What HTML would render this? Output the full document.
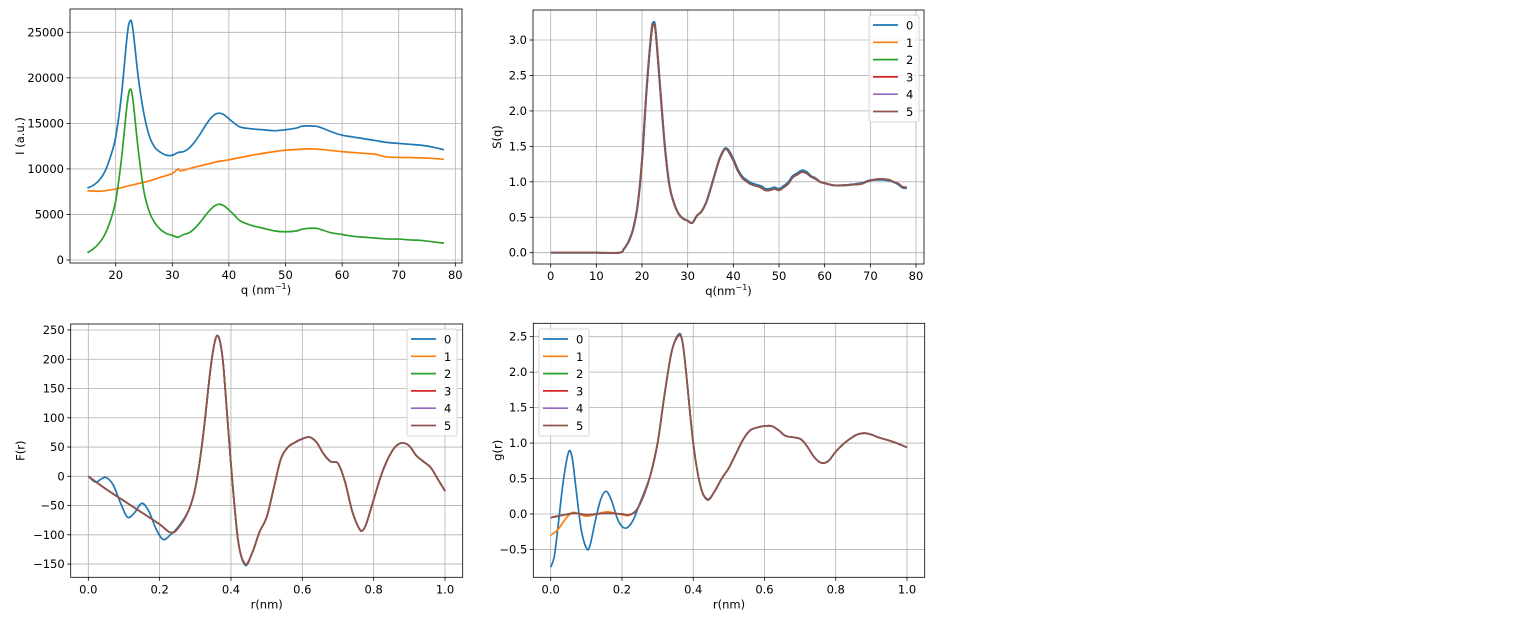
<!DOCTYPE html>
<html><head><meta charset="utf-8">
<style>
body{margin:0;background:#fff;}
svg{display:block;font-family:"DejaVu Sans","Liberation Sans",sans-serif;}
</style></head>
<body>
<svg id="fig" width="1538" height="622" viewBox="0 0 1538 622" xmlns="http://www.w3.org/2000/svg"></svg>
<script>
// ---- Panel A: I(q) ----
const iqX0 = [15,16,17,18,19,20,21,22,22.5,23,24,25,26,27,28,29,30,31,32,33,34,35,36,37,38,39,40,41,42,44,46,48,50,52,53,55,56,58,60,62,64,66,68,70,72,74,76,78];
const iqY0 = [7900,8200,8700,9600,11200,13500,18000,24500,26200,25500,20000,16000,13500,12300,11800,11500,11500,11800,11900,12300,13000,13900,14900,15700,16100,16000,15500,15000,14600,14400,14300,14200,14300,14500,14700,14700,14600,14100,13700,13500,13300,13100,12900,12800,12700,12600,12400,12100];
const iqX1 = [15,17,18,20,22,24,26,28,30,31,31.5,34,36,38,40,44,48,50,54,56,60,64,66,68,72,76,78];
const iqY1 = [7600,7550,7600,7800,8100,8400,8700,9100,9500,10000,9800,10200,10500,10800,11000,11500,11900,12050,12200,12150,11900,11700,11600,11300,11250,11150,11050];
const iqX2 = iqX0;
const iqY2 = [800,1200,1800,2700,4200,6500,11000,17000,18700,17800,12000,7500,5200,4000,3300,2900,2700,2500,2800,3000,3500,4200,5000,5700,6100,6000,5500,4900,4300,3800,3500,3200,3100,3200,3400,3500,3400,3000,2800,2600,2500,2400,2300,2300,2200,2150,2000,1850];
const iqXTicks = [20,30,40,50,60,70,80];
const iqYTicks = [0,5000,10000,15000,20000,25000];

// ---- Panel B: S(q) ----
const sqX = [0,5,10,15,16,17,18,19,20,21,22,22.5,23,24,25,26,27,28,29,30,31,32,33,34,35,36,37,38,38.5,39,40,41,42,43,44,46,47,48,49,50,51,52,53,54,55,56,57,58,59,60,62,64,66,68,70,72,74,75,76,77,78];
const sqY = [0,0,0,0,0.05,0.15,0.32,0.65,1.3,2.3,3.05,3.22,3.1,2.3,1.5,0.95,0.7,0.55,0.48,0.45,0.42,0.52,0.58,0.7,0.9,1.12,1.32,1.45,1.46,1.42,1.3,1.15,1.05,1.0,0.96,0.92,0.88,0.88,0.9,0.88,0.92,0.97,1.06,1.1,1.14,1.12,1.07,1.04,1.0,0.98,0.95,0.95,0.96,0.97,1.02,1.04,1.03,1.0,0.98,0.93,0.92];
const sqY0 = [0,0,0,0,0.05,0.15,0.32,0.65,1.3,2.3,3.08,3.25,3.12,2.3,1.5,0.95,0.7,0.55,0.48,0.45,0.42,0.52,0.58,0.7,0.9,1.12,1.33,1.46,1.47,1.44,1.32,1.17,1.07,1.02,0.98,0.94,0.9,0.9,0.92,0.9,0.94,0.99,1.08,1.12,1.16,1.14,1.08,1.05,1.0,0.98,0.95,0.95,0.96,0.98,1.02,1.03,1.02,1.0,0.97,0.92,0.91];
const sqXTicks = [0,10,20,30,40,50,60,70,80];
const sqYTicks = [0,0.5,1,1.5,2,2.5,3];

// ---- Panel C: F(r) ----
const frX = [0,0.05,0.1,0.15,0.2,0.23,0.25,0.28,0.3,0.32,0.34,0.35,0.36,0.37,0.38,0.4,0.42,0.44,0.46,0.48,0.5,0.52,0.54,0.56,0.58,0.6,0.62,0.64,0.66,0.68,0.7,0.72,0.74,0.76,0.77,0.78,0.8,0.82,0.84,0.86,0.88,0.9,0.92,0.94,0.96,0.98,1.0];
const frY = [0,-22,-42,-62,-82,-96,-90,-60,-20,60,170,215,240,228,180,20,-110,-150,-130,-95,-70,-20,30,50,58,64,67,58,38,25,22,-10,-60,-90,-92,-80,-40,0,30,50,57,52,35,25,15,-5,-25];
const frX0 = [0,0.02,0.035,0.05,0.07,0.09,0.11,0.13,0.15,0.17,0.19,0.21,0.23,0.25,0.28,0.3,0.32,0.34,0.35,0.36,0.37,0.38,0.4,0.42,0.44,0.46,0.48,0.5,0.52,0.54,0.56,0.58,0.6,0.62,0.64,0.66,0.68,0.7,0.72,0.74,0.76,0.77,0.78,0.8,0.82,0.84,0.86,0.88,0.9,0.92,0.94,0.96,0.98,1.0];
const frY0 = [0,-10,-5,-2,-15,-45,-70,-62,-46,-60,-90,-108,-100,-88,-60,-20,60,170,215,240,228,180,20,-110,-152,-130,-95,-70,-20,30,50,58,64,67,58,38,25,22,-10,-60,-90,-92,-80,-40,0,30,50,57,52,35,25,15,-5,-25];
const frXTicks = [0,0.2,0.4,0.6,0.8,1.0];
const frYTicks = [-150,-100,-50,0,50,100,150,200,250];

// ---- Panel D: g(r) ----
const grX = [0,0.03,0.05,0.07,0.1,0.13,0.16,0.2,0.22,0.24,0.26,0.28,0.3,0.32,0.34,0.36,0.37,0.38,0.4,0.42,0.44,0.46,0.48,0.5,0.52,0.54,0.56,0.58,0.6,0.62,0.64,0.66,0.7,0.72,0.74,0.76,0.78,0.8,0.82,0.84,0.86,0.88,0.9,0.92,0.96,1.0];
const grY = [-0.05,-0.02,0,0.01,-0.01,0,0.01,0,-0.01,0.05,0.25,0.55,1.0,1.7,2.3,2.52,2.42,2.0,1.0,0.4,0.2,0.32,0.5,0.65,0.85,1.05,1.18,1.22,1.24,1.24,1.18,1.1,1.06,0.95,0.8,0.72,0.75,0.88,0.98,1.06,1.12,1.14,1.12,1.08,1.02,0.94];
const grX0 = [0,0.01,0.02,0.035,0.05,0.06,0.07,0.085,0.1,0.11,0.125,0.14,0.155,0.17,0.19,0.21,0.23,0.25,0.28,0.3,0.32,0.34,0.36,0.37,0.38,0.4,0.42,0.44,0.46,0.48,0.5,0.52,0.54,0.56,0.58,0.6,0.62,0.64,0.66,0.7,0.72,0.74,0.76,0.78,0.8,0.82,0.84,0.86,0.88,0.9,0.92,0.96,1.0];
const grY0 = [-0.75,-0.6,-0.2,0.45,0.87,0.8,0.4,-0.2,-0.48,-0.45,-0.1,0.2,0.32,0.2,-0.1,-0.2,-0.1,0.15,0.55,1.0,1.7,2.3,2.54,2.42,2.0,1.0,0.4,0.21,0.32,0.5,0.65,0.85,1.05,1.18,1.22,1.24,1.24,1.18,1.1,1.06,0.95,0.8,0.72,0.75,0.88,0.98,1.06,1.12,1.14,1.12,1.08,1.02,0.94];
const grX1 = [0,0.02,0.04,0.06,0.08,0.1,0.13,0.16,0.2,0.22,0.24,0.26,0.28,0.3];
const grY1 = [-0.3,-0.22,-0.08,0.02,0,-0.03,0,0.03,-0.01,-0.02,0.05,0.25,0.55,1.0];
const grXTicks = [0,0.2,0.4,0.6,0.8,1.0];
const grYTicks = [-0.5,0,0.5,1,1.5,2,2.5];

const legendLabels = ['0','1','2','3','4','5'];
const COLORS = ['#1f77b4','#ff7f0e','#2ca02c','#d62728','#9467bd','#8c564b'];
const NS = 'http://www.w3.org/2000/svg';
const fig = document.getElementById('fig');

function mk(tag, attrs, parent){
  const e = document.createElementNS(NS, tag);
  for (const k in attrs) e.setAttribute(k, attrs[k]);
  (parent||fig).appendChild(e);
  return e;
}
function smoothPath(xs, ys, sx, sy){
  const p = xs.map((x,i)=>[sx(x), sy(ys[i])]);
  let d = 'M'+p[0][0].toFixed(2)+','+p[0][1].toFixed(2);
  for (let i=0;i<p.length-1;i++){
    const p0=p[i-1]||p[i], p1=p[i], p2=p[i+1], p3=p[i+2]||p[i+1];
    const c1=[p1[0]+(p2[0]-p0[0])/6, p1[1]+(p2[1]-p0[1])/6];
    const c2=[p2[0]-(p3[0]-p1[0])/6, p2[1]-(p3[1]-p1[1])/6];
    d+=' C'+c1[0].toFixed(2)+','+c1[1].toFixed(2)+' '+c2[0].toFixed(2)+','+c2[1].toFixed(2)+' '+p2[0].toFixed(2)+','+p2[1].toFixed(2);
  }
  return d;
}
function fmt(v, dec){ return (v<0?'\u2212':'')+Math.abs(v).toFixed(dec); }

function panel(o){
  const g = mk('g',{});
  
  
  const sx = v => o.px0 + (v-o.x0)*(o.px1-o.px0)/(o.x1-o.x0);
  const sy = v => o.py0 + (v-o.y0)*(o.py1-o.py0)/(o.y1-o.y0);
  const cp = 'clip-'+o.name;
  const defs = mk('defs',{},g);
  const c = mk('clipPath',{id:cp},defs);
  mk('rect',{x:o.L,y:o.T,width:o.R-o.L,height:o.B-o.T},c);
  o.xt.forEach(v=>{
    const x=sx(v);
    const gl = mk('line',{x1:x,x2:x,y1:o.T,y2:o.B,stroke:'#b0b0b0','stroke-width':0.8},g);
    
    
    mk('line',{x1:x,x2:x,y1:o.B,y2:o.B+3.5,stroke:'#000','stroke-width':0.8},g);
    const t = mk('text',{x:x,y:o.B+16,'font-size':11.5,'text-anchor':'middle',fill:'#000'},g);
    t.textContent = fmt(v,o.xdec);
    
    
  });
  o.yt.forEach(v=>{
    const y=sy(v);
    const gl = mk('line',{x1:o.L,x2:o.R,y1:y,y2:y,stroke:'#b0b0b0','stroke-width':0.8},g);
    
    
    mk('line',{x1:o.L-3.5,x2:o.L,y1:y,y2:y,stroke:'#000','stroke-width':0.8},g);
    const t = mk('text',{x:o.L-6,y:y+4,'font-size':11.5,'text-anchor':'end',fill:'#000'},g);
    t.textContent = fmt(v,o.ydec);
    
    
  });
  const lg = mk('g',{'clip-path':'url(#'+cp+')'},g);
  o.series.forEach(s=>{
    const p = mk('path',{d:smoothPath(s.x,s.y,sx,sy),fill:'none',stroke:s.c,'stroke-width':s.w||1.7,'stroke-linejoin':'round'},lg);
    
    
  });
  mk('rect',{x:o.L,y:o.T,width:o.R-o.L,height:o.B-o.T,fill:'none',stroke:'#000','stroke-width':0.8},g);
  const xl = mk('text',{x:(o.L+o.R)/2,y:o.B+31,'font-size':11.5,'text-anchor':'middle'},g);
  xl.innerHTML = o.xlabel;
  
  
  const yx = o.L-o.ylOff, yy=(o.T+o.B)/2;
  const yl = mk('text',{x:yx,y:yy,'font-size':11.5,'text-anchor':'middle',transform:'rotate(-90 '+yx+' '+yy+')'},g);
  yl.textContent = o.ylabel;
  
  
  if (o.leg){
    const L = o.leg;
    const lgd = mk('g',{},g);
    
    
    mk('rect',{x:L.x,y:L.y,width:50,height:107,rx:2,fill:'#fff','fill-opacity':0.8,stroke:'#ccc','stroke-width':0.8},lgd);
    legendLabels.forEach((lab,i)=>{
      const y = L.y+10+i*17.3;
      const e = mk('g',{},lgd);
      
      
      mk('line',{x1:L.x+4,x2:L.x+29,y1:y,y2:y,stroke:COLORS[i],'stroke-width':1.7},e);
      const t = mk('text',{x:L.x+37,y:y+4.5,'font-size':11.5},e);
      t.textContent = lab;
    });
  }
}

function allSeries(base, extra){
  return legendLabels.map((lab,i)=>{
    const s = extra[i] || {x:base.x,y:base.y};
    return {x:s.x,y:s.y,c:COLORS[i],n:'series-'+lab,w:s.w};
  });
}

panel({name:'intensity-panel',L:70,R:462,T:9,B:263,
  x0:20,x1:80,px0:115.7,px1:455.3,y0:0,y1:25000,py0:260,py1:32.3,
  xt:iqXTicks,yt:iqYTicks,xdec:0,ydec:0,xlabel:'q (nm<tspan dy="-5" font-size="8">\u22121</tspan><tspan dy="5">)</tspan>',ylabel:'I (a.u.)',ylOff:46,
  series:[{x:iqX0,y:iqY0,c:COLORS[0],n:'series-0'},{x:iqX1,y:iqY1,c:COLORS[1],n:'series-1'},{x:iqX2,y:iqY2,c:COLORS[2],n:'series-2'}]});

panel({name:'structure-factor-panel',L:533,R:924,T:10,B:264,
  x0:0,x1:80,px0:550.7,px1:916,y0:0,y1:3,py0:252.7,py1:40,
  xt:sqXTicks,yt:sqYTicks,xdec:0,ydec:1,xlabel:'q(nm<tspan dy="-5" font-size="8">\u22121</tspan><tspan dy="5">)</tspan>',ylabel:'S(q)',ylOff:32,
  series:allSeries({x:sqX,y:sqY},{0:{x:sqX,y:sqY0,w:2.2}}),leg:{x:869,y:15}});

panel({name:'reduced-pdf-panel',L:70.7,R:462.7,T:324,B:577.3,
  x0:0,x1:1,px0:88.3,px1:445,y0:0,y1:250,py0:476.3,py1:330,
  xt:frXTicks,yt:frYTicks,xdec:1,ydec:0,xlabel:'r(nm)',ylabel:'F(r)',ylOff:46,
  series:allSeries({x:frX,y:frY},{0:{x:frX0,y:frY0}}),leg:{x:407,y:329}});

panel({name:'pair-distribution-panel',L:533.3,R:924.7,T:323.3,B:577.3,
  x0:0,x1:1,px0:550.7,px1:907,y0:0,y1:2.5,py0:514,py1:336.7,
  xt:grXTicks,yt:grYTicks,xdec:1,ydec:1,xlabel:'r(nm)',ylabel:'g(r)',ylOff:32,
  series:allSeries({x:grX,y:grY},{0:{x:grX0,y:grY0},1:{x:grX1,y:grY1}}),leg:{x:539,y:329}});
</script>
</body></html>
